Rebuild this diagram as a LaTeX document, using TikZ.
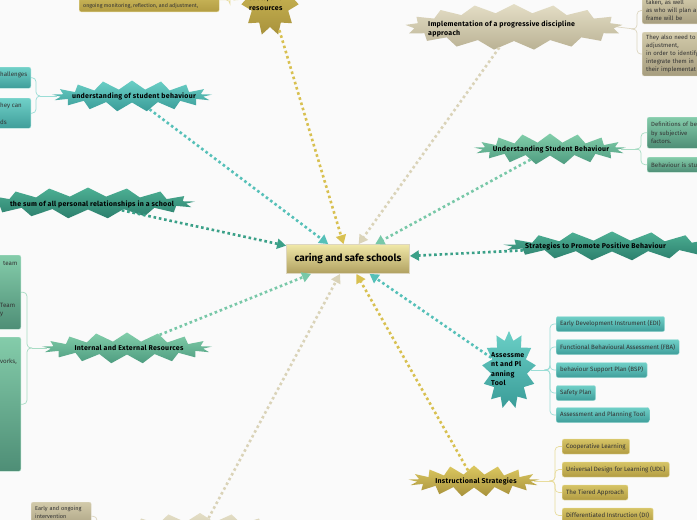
\documentclass[tikz,border=0pt]{standalone}
\usepackage{fontspec}
\setmainfont{Fira Sans}
\usetikzlibrary{shapes.symbols,arrows.meta,calc}
\definecolor{bgc}{HTML}{FAFAFA}
\definecolor{tealT}{HTML}{6ACFC6}\definecolor{tealB}{HTML}{3A9C98}\definecolor{tealL}{HTML}{55C0B8}\definecolor{tealN}{HTML}{9ADDD6}
\definecolor{dtealT}{HTML}{4DB094}\definecolor{dtealB}{HTML}{2C7F6D}\definecolor{dtealL}{HTML}{3AA088}
\definecolor{greenT}{HTML}{82CEAA}\definecolor{greenB}{HTML}{4E9C80}\definecolor{greenL}{HTML}{78C8A8}\definecolor{greenN}{HTML}{A8DCC4}
\definecolor{goldT}{HTML}{DCC860}\definecolor{goldB}{HTML}{A8923C}\definecolor{goldL}{HTML}{D8C050}\definecolor{goldN}{HTML}{E8DC9C}
\definecolor{beigeT}{HTML}{E4DEC6}\definecolor{beigeB}{HTML}{BAB294}\definecolor{beigeL}{HTML}{DAD3B8}\definecolor{beigeN}{HTML}{DDD6C0}
\definecolor{bxgoldT}{HTML}{D6C466}\definecolor{bxgoldB}{HTML}{B29C42}
\definecolor{bxbeigeT}{HTML}{D2CAAA}\definecolor{bxbeigeB}{HTML}{A69D7E}
\definecolor{bxtealT}{HTML}{70D0C8}\definecolor{bxtealB}{HTML}{3F9E9A}
\definecolor{bxgreenT}{HTML}{84CCAA}\definecolor{bxgreenB}{HTML}{4E8E76}
\definecolor{cenT}{HTML}{F0E8A8}\definecolor{cenB}{HTML}{B0A060}
\tikzset{
  arr/.style={line width=2.6pt, dash pattern=on 2.6pt off 2.8pt, -{Triangle[length=9pt,width=10pt]}},
  burst/.style={starburst, starburst point height=9pt, starburst points=17, random starburst=0, inner sep=0pt, draw=none},
  gteal/.style={top color=tealT, bottom color=tealB},
  gdteal/.style={top color=dtealT, bottom color=dtealB},
  ggreen/.style={top color=greenT, bottom color=greenB},
  ggold/.style={top color=goldT, bottom color=goldB},
  gbeige/.style={top color=beigeT, bottom color=beigeB},
  bt/.style={font=\bfseries\fontsize{7}{9.5}\selectfont\addfontfeatures{LetterSpace=4}, align=left, inner sep=0pt, text=black},
  box/.style={rounded corners=2pt, inner xsep=4pt, inner ysep=3pt, font=\fontsize{6.2}{8.2}\selectfont, text=black!80, align=left, minimum height=15pt},
  bxgold/.style={box, top color=bxgoldT, bottom color=bxgoldB, draw=goldN},
  bxbeige/.style={box, top color=bxbeigeT, bottom color=bxbeigeB, draw=beigeN},
  bxteal/.style={box, top color=bxtealT, bottom color=bxtealB, draw=tealN},
  bxgreen/.style={box, top color=bxgreenT, bottom color=bxgreenB, draw=greenN},
  txt/.style={font=\fontsize{6.2}{8.2}\selectfont, text=black!80, inner sep=0pt, anchor=west, align=left},
  thinc/.style={line width=0.7pt, rounded corners=4pt},
}
\begin{document}
\begin{tikzpicture}[x=1pt,y=-1pt]
\useasboundingbox[fill=bgc] (0,0) rectangle (697,520);

% ---------- center
\node[top color=cenT, bottom color=cenB, draw=beigeN, line width=0.8pt, minimum width=123pt, minimum height=29pt, font=\bfseries\fontsize{10}{12}\selectfont] (c) at (348,259) {caring and safe schools};

% ---------- bursts
\node[burst, ggold, starburst points=11, minimum width=58pt, minimum height=74pt] (b10) at (270,-1) {};
\node[bt, anchor=west] (t10) at (249,3) {tools, and\\resources};

\node[burst, gbeige, minimum width=218pt, minimum height=46pt] (b9) at (514,27) {};
\node[bt, anchor=west] (t9) at (428,29) {Implementation of a progressive discipline\\approach};

\node[burst, gteal, minimum width=161pt, minimum height=31pt] (b1) at (132,96) {};
\node[bt] (t1) at (134,96) {understanding of student behaviour};

\node[burst, gdteal, minimum width=215pt, minimum height=31pt] (b2) at (88,203) {};
\node[bt] (t2) at (92,204) {the sum of all personal relationships in a school};

\node[burst, ggreen, minimum width=153pt, minimum height=31pt] (b8) at (550,149) {};
\node[bt] (t8) at (551,149) {Understanding Student Behaviour};

\node[burst, gdteal, minimum width=218pt, minimum height=29pt] (b7) at (612,246) {};
\node[bt, anchor=west] (t7) at (525,246) {Strategies to Promote Positive Behaviour};

\node[burst, ggreen, minimum width=171pt, minimum height=31pt] (b3) at (127,348) {};
\node[bt] (t3) at (129,348) {Internal and External Resources};

\node[burst, gteal, starburst points=13, minimum width=54pt, minimum height=78pt] (b6) at (509,370) {};
\node[bt, anchor=west] (t6) at (491,369) {Assessme\\nt and Pl\\anning\\Tool};

\node[burst, ggold, minimum width=132pt, minimum height=31pt] (b5) at (474,481) {};
\node[bt] (t5) at (476,481) {Instructional Strategies};

\node[burst, gbeige, minimum width=175pt, minimum height=42pt] (b4) at (200,534) {};

% ---------- dotted arrows to centre
\draw[arr, goldL] (b10) -- (c);
\draw[arr, beigeL] (b9) -- (c);
\draw[arr, tealL] (b1) -- (c);
\draw[arr, dtealL] (b2) -- (c);
\draw[arr, greenL] (b8) -- (c);
\draw[arr, dtealL] (b7) -- (c);
\draw[arr, greenL] (b3) -- (c);
\draw[arr, tealL] (b6) -- (c);
\draw[arr, goldL] (b5) -- (c);
\draw[arr, beigeL] (b4) -- (c);

% ---------- top-left gold box
\node[bxgold, anchor=south west, minimum width=140pt, minimum height=24pt] (gbox) at (79,12) {};
\node[txt, font=\fontsize{5.3}{7}\selectfont] (gboxt) at (83,6) {ongoing monitoring, reflection, and adjustment,};
\coordinate (j10) at (234,0);
\draw[thinc, goldN] (b10.west) -- (j10);
\draw[thinc, goldN] (j10) -- ++(-4,0) |- (gbox.east);

% ---------- implementation boxes
\node[bxbeige, anchor=south west, text width=60pt, font=\fontsize{6}{8}\selectfont] (i1) at (642,24) {taken, as well\\as who will plan a\\frame will be};
\node[bxbeige, anchor=north west, text width=60pt, font=\fontsize{6}{8}\selectfont] (i2) at (642,32) {They also need to\\adjustment,\\in order to identify\\integrate them in\\their implementat};
\coordinate (j9) at (634,29);
\draw[thinc, beigeN] (b9.east) -- (j9);
\draw[thinc, beigeN] (j9) -- ++(3,0) |- (i1.west);
\draw[thinc, beigeN] (j9) -- ++(3,0) |- (i2.west);

% ---------- understanding of student behaviour boxes (left, cut)
\node[bxteal, anchor=north east, minimum width=60pt, minimum height=21pt] (u1) at (31,67) {};
\node[txt] (u1t) at (0,75) {hallenges};
\node[bxteal, anchor=north east, minimum width=60pt, minimum height=30pt] (u2) at (31,98) {};
\node[txt] (u2t) at (0,106) {hey can};
\node[txt] (u2u) at (0,122) {ds};
\coordinate (j1) at (40,96);
\draw[thinc, tealN] (b1.west) -- (j1);
\draw[thinc, tealN] (j1) -- ++(-4,0) |- (u1.east);
\draw[thinc, tealN] (j1) -- ++(-4,0) |- (u2.east);

% ---------- internal and external resources boxes (left, cut)
\node[bxgreen, anchor=north east, minimum width=60pt, minimum height=74pt] (r1) at (21,255) {};
\node[txt] (r1t) at (3,263) {team};
\node[txt] (r1u) at (0,310) {Team\\y};
\node[bxgreen, anchor=north east, minimum width=60pt, minimum height=134pt] (r2) at (21,337) {};
\node[txt] (r2t) at (0,362) {vorks,};
\coordinate (j3) at (32,348);
\draw[thinc, greenN] (b3.west) -- (j3);
\draw[thinc, greenN] (j3) -- ++(-5,0) |- (r1.east);
\draw[thinc, greenN] (j3) -- ++(-5,0) |- (r2.east);

% ---------- bottom beige box
\node[bxbeige, anchor=north west, text width=52pt, minimum height=28pt, font=\fontsize{5.6}{8}\selectfont] (f1) at (31,502) {Early and ongoing\\intervention\\\mbox{}};
\coordinate (j4) at (101,533);
\draw[thinc, beigeN] (b4.west) -- (j4);
\draw[thinc, beigeN] (j4) -- ++(-4,0) |- (f1.east);

% ---------- understanding student behaviour boxes (right)
\node[bxgreen, anchor=north west, text width=60pt, minimum height=31pt, font=\fontsize{6}{8.5}\selectfont] (s1) at (647,117) {Definitions of be\\by subjective\\factors.};
\node[bxgreen, anchor=north west, text width=60pt, minimum height=15pt] (s2) at (647,157) {Behaviour is stu};
\coordinate (j8) at (638,149);
\draw[thinc, greenN] (b8.east) -- (j8);
\draw[thinc, greenN] (j8) -- ++(3,0) |- (s1.west);
\draw[thinc, greenN] (j8) -- ++(3,0) |- (s2.west);

% ---------- assessment boxes
\node[bxteal, anchor=west] (a1) at (556,324) {Early Development Instrument (EDI)};
\node[bxteal, anchor=west] (a2) at (556,347) {Functional Behavioural Assessment (FBA)};
\node[bxteal, anchor=west] (a3) at (556,370) {behaviour Support Plan (BSP)};
\node[bxteal, anchor=west] (a4) at (556,393) {Safety Plan};
\node[bxteal, anchor=west] (a5) at (556,415) {Assessment and Planning Tool};
\coordinate (j6) at (547,370);
\draw[thinc, tealN] (b6.east) -- (j6);
\foreach \k in {a1,a2,a3,a4,a5} \draw[thinc, tealN] (j6) -- ++(3,0) |- (\k.west);

% ---------- instructional boxes
\node[bxgold, anchor=west] (n1) at (562,446.5) {Cooperative Learning};
\node[bxgold, anchor=west] (n2) at (562,469.5) {Universal Design for Learning (UDL)};
\node[bxgold, anchor=west] (n3) at (562,492.5) {The Tiered Approach};
\node[bxgold, anchor=west] (n4) at (562,515.5) {Differentiated Instruction (DI)};
\coordinate (j5) at (552,481);
\draw[thinc, goldN] (b5.east) -- (j5);
\foreach \k in {n1,n2,n3,n4} \draw[thinc, goldN] (j5) -- ++(3,0) |- (\k.west);
\end{tikzpicture}
\end{document}
